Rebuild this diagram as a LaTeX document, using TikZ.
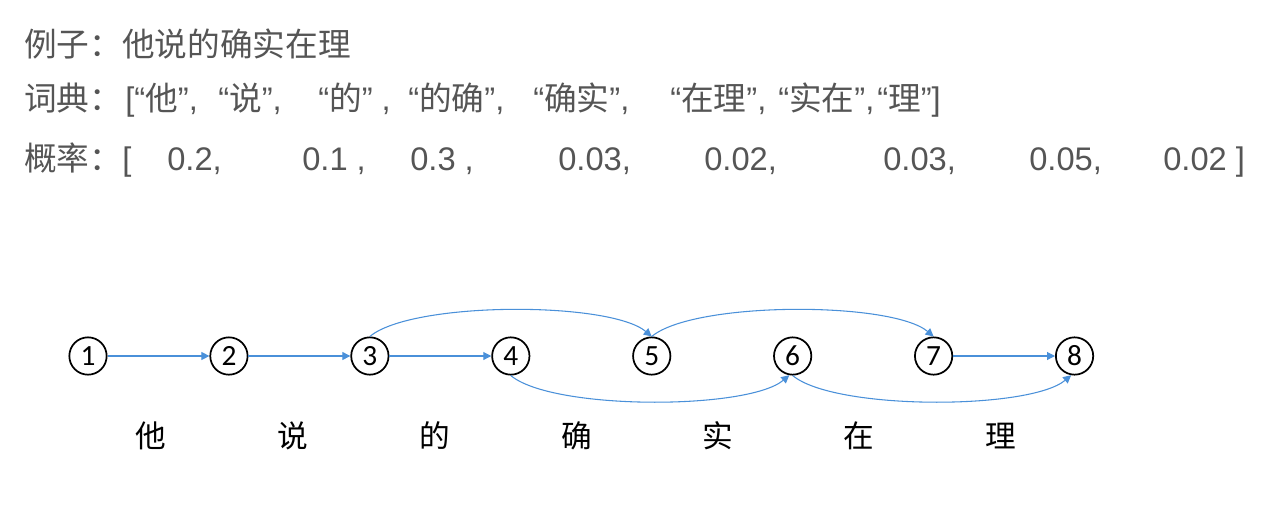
\documentclass[tikz,border=0pt]{standalone}
\usepackage{fontspec}
\setmainfont{Liberation Sans}
\newfontfamily\cjk{Noto Sans CJK SC}
\newfontfamily\numfont{Carlito}
\usetikzlibrary{arrows.meta, positioning}
\definecolor{txtgray}{RGB}{85,85,85}
\definecolor{linkblue}{RGB}{74,144,217}
\newcommand{\zh}[1]{{\cjk #1}}

\begin{document}
\begin{tikzpicture}[x=0.75pt, y=0.75pt,
    txt/.style={anchor=base west, inner sep=0pt, text=txtgray, font=\fontsize{24.5}{29}\selectfont},
    vtx/.style={circle, draw, line width=1.3pt, minimum size=28pt, inner sep=0pt, font=\numfont\fontsize{22}{26}\selectfont},
    word/.style={inner sep=0pt, font=\cjk\fontsize{23}{27}\selectfont},
    link/.style={draw=linkblue, line width=0.8pt, -{Triangle[length=6pt, width=6pt]}}]
      \useasboundingbox (0,0) rectangle (1284,-507);

      % example, dictionary and probabilities
      \node[txt] (ex) at (24,-56) {\zh{例子：他说的确实在理}};
      \node[txt] (d0) at (24,-110) {\zh{词典：}};
      \node[txt] (d1) at (125,-110) {[“\zh{他}”,};
      \node[txt] (d2) at (218,-110) {“\zh{说}”,};
      \node[txt] (d3) at (318,-110) {“\zh{的}” ,};
      \node[txt] (d4) at (408,-110) {“\zh{的确}”,};
      \node[txt] (d5) at (533,-110) {“\zh{确实}”,};
      \node[txt] (d6) at (670,-110) {“\zh{在理}”,};
      \node[txt] (d7) at (778,-110) {“\zh{实在}”,};
      \node[txt] (d8) at (877,-110) {“\zh{理}”]};
      \node[txt] (p0) at (24,-170) {\zh{概率：}[};
      \node[txt] (p1) at (167,-170) {0.2,};
      \node[txt] (p2) at (302,-170) {0.1 ,};
      \node[txt] (p3) at (410,-170) {0.3 ,};
      \node[txt] (p4) at (558,-170) {0.03,};
      \node[txt] (p5) at (704,-170) {0.02,};
      \node[txt] (p6) at (883,-170) {0.03,};
      \node[txt] (p7) at (1029,-170) {0.05,};
      \node[txt] (p8) at (1163,-170) {0.02 ]};

      % lattice
      \node[vtx] (n1) at (88,-356) {1};
      \node[vtx, right=76.4pt of n1] (n2) {2};
      \node[vtx, right=76.4pt of n2] (n3) {3};
      \node[vtx, right=76.4pt of n3] (n4) {4};
      \node[vtx, right=76.4pt of n4] (n5) {5};
      \node[vtx, right=76.4pt of n5] (n6) {6};
      \node[vtx, right=76.4pt of n6] (n7) {7};
      \node[vtx, right=76.4pt of n7] (n8) {8};

      \draw[link] (n1) -- (n2);
      \draw[link] (n2) -- (n3);
      \draw[link] (n3) -- (n4);
      \draw[link] (n7) -- (n8);
      \draw[link] (n3.north) to[out=40, in=140, looseness=0.5] (n5.north);
      \draw[link] (n5.north) to[out=40, in=140, looseness=0.5] (n7.north);
      \draw[link] (n4.south) to[out=-40, in=-140, looseness=0.5] (n6.-100);
      \draw[link] (n6.south) to[out=-40, in=-140, looseness=0.5] (n8.-100);

      \node[word] (w1) at (151,-436) {他};
      \node[word] (w2) at (293,-436) {说};
      \node[word] (w3) at (435,-436) {的};
      \node[word] (w4) at (577,-436) {确};
      \node[word] (w5) at (718,-436) {实};
      \node[word] (w6) at (859,-436) {在};
      \node[word] (w7) at (1001,-436) {理};
\end{tikzpicture}
\end{document}
